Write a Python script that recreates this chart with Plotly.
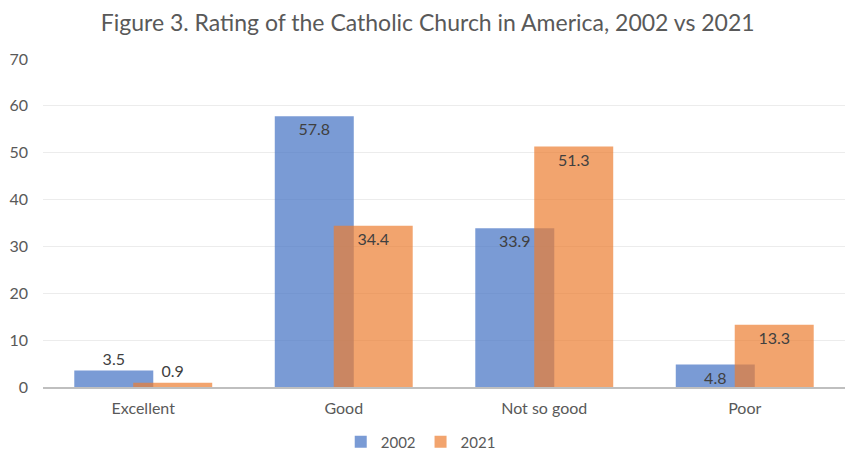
import plotly.graph_objects as go

categories = ["Excellent", "Good", "Not so good", "Poor"]
rating_2002 = [3.5, 57.8, 33.9, 4.8]
rating_2021 = [0.9, 34.4, 51.3, 13.3]
y_ticks = [0, 10, 20, 30, 40, 50, 60, 70]

# tiny bars get their label just above the bar, like the Excel chart
pos_2002 = ["outside", "inside", "inside", "inside"]
pos_2021 = ["outside", "inside", "inside", "inside"]

fig = go.Figure()

fig.add_trace(go.Bar(
    x=categories, y=rating_2002, name="2002",
    marker=dict(color="rgba(68,114,196,0.71)", line=dict(width=0)),
    width=0.394, offset=-0.344,
    text=[f"{v:.1f}" for v in rating_2002],
    textposition=pos_2002, insidetextanchor="end",
    textfont=dict(color="#404040", size=16), constraintext="none", cliponaxis=False,
))
fig.add_trace(go.Bar(
    x=categories, y=rating_2021, name="2021",
    marker=dict(color="rgba(237,125,49,0.70)", line=dict(width=0)),
    width=0.394, offset=-0.05,
    text=[f"{v:.1f}" for v in rating_2021],
    textposition=pos_2021, insidetextanchor="end",
    textfont=dict(color="#404040", size=16), constraintext="none", cliponaxis=False,
))

fig.update_layout(
    barmode="overlay",
    width=860, height=470,
    margin=dict(l=35, r=23, t=51, b=91),
    paper_bgcolor="white", plot_bgcolor="white",
    font=dict(family="Lato, Open Sans, sans-serif", color="#595959", size=16),
    title=dict(text="Figure 3. Rating of the Catholic Church in America, 2002 vs 2021",
               x=0.488, xanchor="center", y=0.968, yanchor="middle",
               font=dict(size=23, color="#595959")),
    uniformtext=dict(minsize=16, mode="show"),
    legend=dict(orientation="h", x=0.471, xanchor="center", y=-0.168, yanchor="middle",
                font=dict(size=15, color="#595959"), itemwidth=30),
    showlegend=True,
)
fig.update_yaxes(range=[0, 70], tickvals=y_ticks, showgrid=True, gridcolor="#ececec",
                 zeroline=False, showline=False, ticks="", tickfont=dict(size=16),
                 ticklabelstandoff=14, automargin=False)
fig.update_xaxes(showline=True, linecolor="#bfbfbf", linewidth=1.5, ticks="",
                 tickfont=dict(size=16), ticklabelstandoff=6, automargin=False)

fig.write_html("out.html")
